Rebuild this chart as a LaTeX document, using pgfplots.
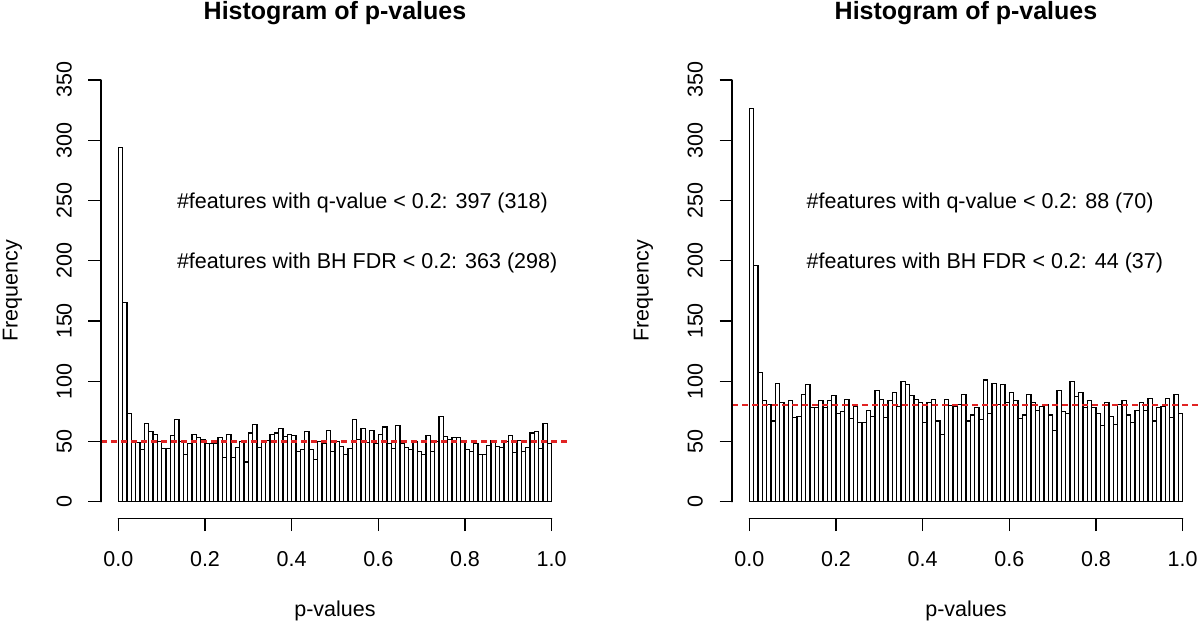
\documentclass[border=0pt]{standalone}
\usepackage{fontspec}
\setmainfont{Liberation Sans}
\usepackage{pgfplots}
\pgfplotsset{compat=1.18}
\definecolor{ablinered}{RGB}{225,35,35}

\tikzset{lab/.style={font=\fontsize{21.5bp}{26bp}\selectfont, inner sep=0pt}}

\pgfplotsset{
  rhist/.style={
    scale only axis, width=468bp, height=455.5bp,
    xmin=-0.04, xmax=1.04, ymin=-14, ymax=364, clip=false,
    axis x line*=bottom, axis y line*=left, axis line style={draw=none},
    xtick={0,0.2,0.4,0.6,0.8,1}, ytick={0,50,100,150,200,250,300,350},
    xticklabels={}, yticklabels={},
    tick align=outside, major tick length=12.5bp,
    tick style={black, line width=1.2bp},
    every axis title shift=0pt,
    title=Histogram of p-values,
    title style={at={(axis description cs:0.5,1.0962)}, anchor=base, inner sep=0pt,
      font=\fontsize{25bp}{30bp}\selectfont\bfseries},
    xlabel=p-values,
    xlabel style={at={(axis description cs:0.5,-0.216)}, anchor=base, inner sep=0pt},
    ylabel=Frequency,
    ylabel style={at={(axis description cs:-0.1784,0.5)}, anchor=base, inner sep=0pt},
    label style={font=\fontsize{21.5bp}{26bp}\selectfont},
  },
  bars/.style={ybar, bar width=0.01, bar shift=0pt, draw=black, fill=white, line width=1.1bp},
  frame/.style={black, line width=1.2bp, line cap=round},
}

\newcommand\ticklabels{%
  \pgfplotsinvokeforeach{0,50,100,150,200,250,300,350}{%
    \node[lab, rotate=90, anchor=base] at (axis cs:-0.108,##1) {##1};}%
  \pgfplotsinvokeforeach{0.0,0.2,0.4,0.6,0.8,1.0}{%
    \node[lab, anchor=base] at (axis cs:##1,-53.9) {##1};}%
}

\begin{document}
\begin{tikzpicture}
\useasboundingbox (0,0) rectangle (1200bp,626bp);

% left histogram
\begin{axis}[rhist, at={(101bp,107.4bp)}, anchor=south west]
\addplot[bars] coordinates {
(0.005,294) (0.015,165) (0.025,73) (0.035,50) (0.045,49) (0.055,43) (0.065,65) (0.075,58) (0.085,56) (0.095,50)
(0.105,44) (0.115,44) (0.125,55) (0.135,68) (0.145,50) (0.155,39) (0.165,48) (0.175,56) (0.185,53) (0.195,52)
(0.205,48) (0.215,48) (0.225,48) (0.235,53) (0.245,37) (0.255,56) (0.265,37) (0.275,45) (0.285,50) (0.295,33)
(0.305,57) (0.315,64) (0.325,45) (0.335,51) (0.345,51) (0.355,56) (0.365,57) (0.375,61) (0.385,54) (0.395,56)
(0.405,55) (0.415,42) (0.425,43) (0.435,58) (0.445,43) (0.455,35) (0.465,50) (0.475,48) (0.485,59) (0.495,42)
(0.505,50) (0.515,46) (0.525,39) (0.535,44) (0.545,68) (0.555,52) (0.565,61) (0.575,49) (0.585,59) (0.595,48)
(0.605,56) (0.615,62) (0.625,48) (0.635,44) (0.645,63) (0.655,48) (0.665,45) (0.675,43) (0.685,50) (0.695,42)
(0.705,39) (0.715,55) (0.725,42) (0.735,50) (0.745,71) (0.755,54) (0.765,52) (0.775,53) (0.785,53) (0.795,51)
(0.805,43) (0.815,42) (0.825,48) (0.835,39) (0.845,39) (0.855,47) (0.865,51) (0.875,46) (0.885,45) (0.895,50)
(0.905,55) (0.915,41) (0.925,51) (0.935,42) (0.945,45) (0.955,57) (0.965,58) (0.975,44) (0.985,65) (0.995,48)
};
\addplot[draw=ablinered, line width=2.2bp, dash pattern=on 6bp off 4bp, mark=none] coordinates {(-0.04,50) (1.04,50)};
\addplot[frame] coordinates {(0,-14) (1,-14)};
\addplot[frame] coordinates {(-0.04,0) (-0.04,350)};
\ticklabels
\node[lab, anchor=base west] at (axis cs:0.135,243.6) {\#features with q-value < 0.2: 397 (318)};
\node[lab, anchor=base west] at (axis cs:0.135,193.6) {\#features with BH FDR < 0.2: 363 (298)};
\end{axis}

% right histogram
\begin{axis}[rhist, at={(732bp,107.4bp)}, anchor=south west]
\addplot[bars] coordinates {
(0.005,326) (0.015,196) (0.025,107) (0.035,84) (0.045,81) (0.055,67) (0.065,98) (0.075,82) (0.085,81) (0.095,84)
(0.105,70) (0.115,71) (0.125,89) (0.135,97) (0.145,78) (0.155,78) (0.165,84) (0.175,78) (0.185,84) (0.195,88)
(0.205,73) (0.215,75) (0.225,85) (0.235,69) (0.245,79) (0.255,66) (0.265,66) (0.275,76) (0.285,71) (0.295,92)
(0.305,85) (0.315,70) (0.325,84) (0.335,91) (0.345,79) (0.355,100) (0.365,97) (0.375,88) (0.385,85) (0.395,82)
(0.405,66) (0.415,82) (0.425,85) (0.435,67) (0.445,56) (0.455,85) (0.465,80) (0.475,79) (0.485,81) (0.495,89)
(0.505,67) (0.515,72) (0.525,78) (0.535,68) (0.545,101) (0.555,73) (0.565,98) (0.575,81) (0.585,97) (0.595,82)
(0.605,91) (0.615,84) (0.625,69) (0.635,72) (0.645,89) (0.655,82) (0.665,76) (0.675,79) (0.685,81) (0.695,72)
(0.705,59) (0.715,92) (0.725,75) (0.735,73) (0.745,100) (0.755,87) (0.765,91) (0.775,78) (0.785,84) (0.795,78)
(0.805,73) (0.815,63) (0.825,82) (0.835,71) (0.845,64) (0.855,81) (0.865,84) (0.875,72) (0.885,66) (0.895,76)
(0.905,82) (0.915,76) (0.925,86) (0.935,67) (0.945,78) (0.955,79) (0.965,86) (0.975,70) (0.985,89) (0.995,73)
};
\addplot[draw=ablinered, line width=2.2bp, dash pattern=on 6bp off 4bp, mark=none] coordinates {(-0.04,80) (1.04,80)};
\addplot[frame] coordinates {(0,-14) (1,-14)};
\addplot[frame] coordinates {(-0.04,0) (-0.04,350)};
\ticklabels
\node[lab, anchor=base west] at (axis cs:0.132,243.6) {\#features with q-value < 0.2: 88 (70)};
\node[lab, anchor=base west] at (axis cs:0.132,193.6) {\#features with BH FDR < 0.2: 44 (37)};
\end{axis}
\end{tikzpicture}
\end{document}
